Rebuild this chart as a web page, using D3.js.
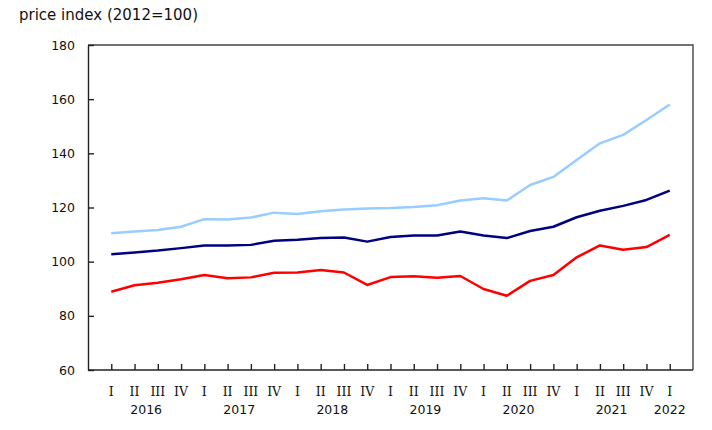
<!DOCTYPE html>
<html>
<head>
<meta charset="utf-8">
<script src="https://cdn.jsdelivr.net/npm/d3@7"></script>
<style>
  body { margin: 0; background: #fff; }
  svg { display: block; }
  text { font-family: "DejaVu Sans", Verdana, sans-serif; fill: #111; }
</style>
</head>
<body>
<svg id="chart" width="712" height="430"></svg>
<script>
const quarters = ["I","II","III","IV","I","II","III","IV","I","II","III","IV","I","II","III","IV","I","II","III","IV","I","II","III","IV","I"];
const years = ["2016","2016","2016","2016","2017","2017","2017","2017","2018","2018","2018","2018","2019","2019","2019","2019","2020","2020","2020","2020","2021","2021","2021","2021","2022"];
const yearLabels = ["2016","2017","2018","2019","2020","2021","2022"];
const yTicks = [60, 80, 100, 120, 140, 160, 180];

const seriesLight = [110.5, 111.1, 111.7, 112.9, 115.7, 115.6, 116.3, 118.1, 117.6, 118.6, 119.3, 119.6, 119.8, 120.2, 120.8, 122.6, 123.4, 122.6, 128.3, 131.3, 137.5, 143.7, 146.8, 152.3, 158.0];
const seriesNavy  = [102.7, 103.4, 104.1, 105.0, 106.0, 106.0, 106.2, 107.7, 108.1, 108.7, 108.9, 107.4, 109.1, 109.7, 109.7, 111.1, 109.7, 108.7, 111.3, 112.9, 116.4, 118.8, 120.6, 122.8, 126.2];
const seriesRed   = [88.9, 91.3, 92.2, 93.5, 95.1, 93.9, 94.2, 95.9, 96.0, 96.9, 96.0, 91.4, 94.3, 94.6, 94.1, 94.7, 89.9, 87.4, 92.9, 95.1, 101.6, 106.0, 104.4, 105.4, 109.9];

const svg = d3.select("#chart");
const L = 88, R = 693, T = 45, B = 370;

const idx = quarters.map((q, i) => i);
const x = d3.scalePoint().domain(idx).range([L, R]).padding(1);
const y = d3.scaleLinear().domain([60, 180]).range([B, T]);

// frame (top and right)
svg.append("path")
  .attr("d", `M${L},${T}H${R}V${B}`)
  .attr("fill", "none").attr("stroke", "#444").attr("stroke-width", 1.4);

// title
svg.append("text").attr("x", 19).attr("y", 20)
  .style("font-size", "15px").text("price index (2012=100)");

// y axis
const yAxis = svg.append("g").attr("transform", `translate(${L},0)`)
  .call(d3.axisLeft(y).tickValues(yTicks).tickSize(-6).tickSizeOuter(0).tickPadding(13));
yAxis.selectAll("text").style("font-size", "12.5px").style("font-family", '"DejaVu Sans", Verdana, sans-serif').attr("fill", "#111");
yAxis.selectAll("line, path").attr("stroke", "#222").attr("stroke-width", 1.4);

// x axis
const xAxis = svg.append("g").attr("transform", `translate(0,${B})`)
  .call(d3.axisBottom(x).tickSize(-6).tickSizeOuter(0).tickFormat(""));
xAxis.selectAll("line, path").attr("stroke", "#222").attr("stroke-width", 1.4);
xAxis.select(".domain").attr("d", `M${L},0H${R}`);

// quarter labels
svg.append("g").selectAll("text").data(idx).join("text")
  .attr("x", i => x(i)).attr("y", 395.5)
  .attr("text-anchor", "middle")
  .style("font-family", '"DejaVu Serif", serif')
  .style("font-size", "12.5px")
  .text(i => quarters[i]);

// year labels
svg.append("g").selectAll("text").data(yearLabels).join("text")
  .attr("x", yr => d3.mean(idx.filter(i => years[i] === yr), i => x(i)))
  .attr("y", 414)
  .attr("text-anchor", "middle")
  .style("font-size", "12.5px")
  .text(yr => yr);

// lines
const line = d3.line().x((d, i) => x(i)).y(d => y(d));
[[seriesLight, "#99ccff"], [seriesNavy, "#000080"], [seriesRed, "#ff0000"]].forEach(([s, c]) => {
  svg.append("path").datum(s)
    .attr("d", line)
    .attr("fill", "none")
    .attr("stroke", c)
    .attr("stroke-width", 2.5)
    .attr("stroke-linejoin", "round");
});
</script>
</body>
</html>
